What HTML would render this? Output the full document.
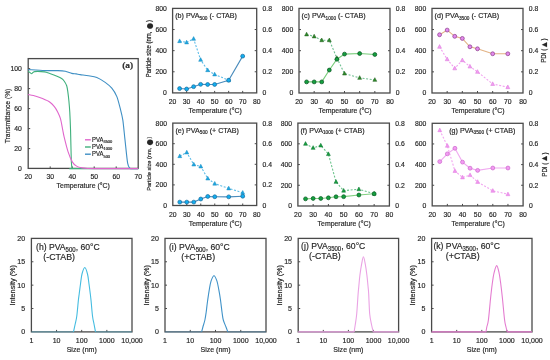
<!DOCTYPE html>
<html><head><meta charset="utf-8"><style>
html,body{margin:0;padding:0;background:#fff;}
svg{display:block;font-family:"Liberation Sans", sans-serif;filter:blur(0.2px);}
svg text{stroke:#262626;stroke-width:0.18px;}
</style></head><body>
<svg width="550" height="360" viewBox="0 0 550 360">
<rect width="550" height="360" fill="#fff"/>
<rect x="28.2" y="58.6" width="110" height="109.8" fill="none" stroke="#4a4a4a" stroke-width="1.3"/>
<path d="M50.2,168.4 v-2.0 M72.2,168.4 v-2.0 M94.2,168.4 v-2.0 M116.2,168.4 v-2.0 M28.2,148.6 h2.0 M28.2,128.6 h2.0 M28.2,108.6 h2.0 M28.2,88.6 h2.0 M28.2,68.6 h2.0" stroke="#4a4a4a" stroke-width="1" fill="none"/>
<text transform="translate(21.8,171) scale(0.93,1)" font-size="7.34" text-anchor="end" fill="#262626" >0</text>
<text transform="translate(21.8,151) scale(0.93,1)" font-size="7.34" text-anchor="end" fill="#262626" >20</text>
<text transform="translate(21.8,131) scale(0.93,1)" font-size="7.34" text-anchor="end" fill="#262626" >40</text>
<text transform="translate(21.8,111) scale(0.93,1)" font-size="7.34" text-anchor="end" fill="#262626" >60</text>
<text transform="translate(21.8,91) scale(0.93,1)" font-size="7.34" text-anchor="end" fill="#262626" >80</text>
<text transform="translate(21.8,71) scale(0.93,1)" font-size="7.34" text-anchor="end" fill="#262626" >100</text>
<text transform="translate(28.2,179.2) scale(0.93,1)" font-size="7.34" text-anchor="middle" fill="#262626" >20</text>
<text transform="translate(50.2,179.2) scale(0.93,1)" font-size="7.34" text-anchor="middle" fill="#262626" >30</text>
<text transform="translate(72.2,179.2) scale(0.93,1)" font-size="7.34" text-anchor="middle" fill="#262626" >40</text>
<text transform="translate(94.2,179.2) scale(0.93,1)" font-size="7.34" text-anchor="middle" fill="#262626" >50</text>
<text transform="translate(116.2,179.2) scale(0.93,1)" font-size="7.34" text-anchor="middle" fill="#262626" >60</text>
<text transform="translate(138.2,179.2) scale(0.93,1)" font-size="7.34" text-anchor="middle" fill="#262626" >70</text>
<text transform="translate(83.2,188) scale(0.93,1)" font-size="7.45" text-anchor="middle" fill="#262626" >Temperature (°C)</text>
<text transform="translate(10.4,116) rotate(-90) scale(0.93,1)" font-size="7.24" text-anchor="middle" fill="#262626">Transmittance (%)</text>
<text transform="translate(127.7,68) scale(1.15,1)" font-size="8.2" text-anchor="middle" fill="#333" font-family="Liberation Serif" font-weight="bold">(a)</text>
<path d="M28.2,69.6 C30.37,69.73 40.52,70.47 44.48,70.6 C48.44,70.73 55.11,70.51 57.9,70.6 C60.69,70.69 63.53,70.93 65.38,71.3 C67.23,71.67 70.32,73.05 71.76,73.4 C73.2,73.75 75.05,73.74 76.16,73.9 C77.27,74.06 78.48,74.36 80.12,74.6 C81.76,74.84 86.25,75.33 88.48,75.7 C90.71,76.07 94.61,76.51 96.84,77.4 C99.07,78.29 103.21,80.96 105.2,82.4 C107.19,83.84 110.25,86.31 111.8,88.2 C113.35,90.09 115.75,93.93 116.86,96.6 C117.97,99.27 119.37,105.09 120.16,108.2 C120.95,111.31 122.15,115.67 122.8,119.9 C123.45,124.13 124.35,134.13 125,139.9 C125.65,145.67 126.99,159.43 127.64,163.2 C128.29,166.97 129.31,167.48 129.84,168.2 C130.37,168.92 130.49,168.55 131.6,168.6 C132.71,168.65 137.32,168.6 138.2,168.6" stroke="#3f8fc4" stroke-width="1.1" fill="none" stroke-linejoin="round"/>
<path d="M28.2,71.2 C28.64,71.53 30.65,73.65 31.5,73.7 C32.35,73.75 32.85,71.84 34.58,71.6 C36.31,71.36 42.46,71.65 44.48,71.9 C46.5,72.15 48.09,72.93 49.76,73.5 C51.43,74.07 55.44,75.53 57.02,76.2 C58.6,76.87 60.67,77.83 61.64,78.5 C62.61,79.17 63.61,80.24 64.28,81.2 C64.95,82.16 66.23,84.31 66.7,85.7 C67.17,87.09 67.51,89.56 67.8,91.6 C68.09,93.64 68.64,98.27 68.9,101 C69.16,103.73 69.56,108.25 69.78,112.1 C70,115.95 70.34,123.3 70.55,129.9 C70.76,136.5 71.1,156.51 71.32,161.6 C71.54,166.69 71.85,167.17 72.2,168.1 C72.55,169.03 65.16,168.53 73.96,168.6 C82.76,168.67 129.63,168.6 138.2,168.6" stroke="#3fb07c" stroke-width="1.1" fill="none" stroke-linejoin="round"/>
<path d="M28.2,94.6 C29.23,94.81 33.99,95.67 35.9,96.2 C37.81,96.73 40.62,97.8 42.5,98.6 C44.38,99.4 48.4,101.12 49.98,102.2 C51.56,103.28 53.34,105.37 54.38,106.7 C55.42,108.03 56.97,110.57 57.79,112.2 C58.61,113.83 59.88,116.53 60.54,118.9 C61.2,121.27 62.27,127.64 62.74,130 C63.21,132.36 63.36,133.72 64.06,136.6 C64.76,139.48 66.91,148.2 68.02,151.6 C69.13,155 71.28,160.17 72.42,162.1 C73.56,164.03 75.31,165.33 76.6,166.1 C77.89,166.87 80.63,167.58 82.1,167.9 C83.57,168.22 85.99,168.41 87.6,168.5 C89.21,168.59 87.45,168.59 94.2,168.6 C100.95,168.61 132.33,168.6 138.2,168.6" stroke="#e066cc" stroke-width="1.1" fill="none" stroke-linejoin="round"/>
<path d="M85,139.8 h5.8" stroke="#e066cc" stroke-width="1.4"/>
<text transform="translate(92,141.9) scale(0.93,1)" font-size="6.37" text-anchor="start" fill="#262626" >PVA<tspan font-size="4.32" dy="1.3">3500</tspan></text>
<path d="M85,147 h5.8" stroke="#3fb07c" stroke-width="1.4"/>
<text transform="translate(92,149.1) scale(0.93,1)" font-size="6.37" text-anchor="start" fill="#262626" >PVA<tspan font-size="4.32" dy="1.3">1000</tspan></text>
<path d="M85,154.2 h5.8" stroke="#3f8fc4" stroke-width="1.4"/>
<text transform="translate(92,156.3) scale(0.93,1)" font-size="6.37" text-anchor="start" fill="#262626" >PVA<tspan font-size="4.32" dy="1.3">500</tspan></text>
<rect x="172.6" y="8.4" width="84.1" height="84.5" fill="none" stroke="#4a4a4a" stroke-width="1.3"/>
<path d="M186.62,92.9 v-2.0 M200.63,92.9 v-2.0 M214.65,92.9 v-2.0 M228.67,92.9 v-2.0 M242.68,92.9 v-2.0 M172.6,71.78 h2.0 M172.6,50.65 h2.0 M172.6,29.53 h2.0 M256.7,71.78 h-2.0 M256.7,50.65 h-2.0 M256.7,29.53 h-2.0" stroke="#4a4a4a" stroke-width="1" fill="none"/>
<text transform="translate(166.8,95.3) scale(0.93,1)" font-size="7.34" text-anchor="end" fill="#262626" >0</text>
<text transform="translate(262.5,95.3) scale(0.93,1)" font-size="7.34" text-anchor="start" fill="#262626" >0</text>
<text transform="translate(166.8,74.18) scale(0.93,1)" font-size="7.34" text-anchor="end" fill="#262626" >200</text>
<text transform="translate(262.5,74.18) scale(0.93,1)" font-size="7.34" text-anchor="start" fill="#262626" >0.2</text>
<text transform="translate(166.8,53.05) scale(0.93,1)" font-size="7.34" text-anchor="end" fill="#262626" >400</text>
<text transform="translate(262.5,53.05) scale(0.93,1)" font-size="7.34" text-anchor="start" fill="#262626" >0.4</text>
<text transform="translate(166.8,31.93) scale(0.93,1)" font-size="7.34" text-anchor="end" fill="#262626" >600</text>
<text transform="translate(262.5,31.93) scale(0.93,1)" font-size="7.34" text-anchor="start" fill="#262626" >0.6</text>
<text transform="translate(166.8,10.8) scale(0.93,1)" font-size="7.34" text-anchor="end" fill="#262626" >800</text>
<text transform="translate(262.5,10.8) scale(0.93,1)" font-size="7.34" text-anchor="start" fill="#262626" >0.8</text>
<text transform="translate(172.6,104.1) scale(0.93,1)" font-size="7.34" text-anchor="middle" fill="#262626" >20</text>
<text transform="translate(186.62,104.1) scale(0.93,1)" font-size="7.34" text-anchor="middle" fill="#262626" >30</text>
<text transform="translate(200.63,104.1) scale(0.93,1)" font-size="7.34" text-anchor="middle" fill="#262626" >40</text>
<text transform="translate(214.65,104.1) scale(0.93,1)" font-size="7.34" text-anchor="middle" fill="#262626" >50</text>
<text transform="translate(228.67,104.1) scale(0.93,1)" font-size="7.34" text-anchor="middle" fill="#262626" >60</text>
<text transform="translate(242.68,104.1) scale(0.93,1)" font-size="7.34" text-anchor="middle" fill="#262626" >70</text>
<text transform="translate(256.7,104.1) scale(0.93,1)" font-size="7.34" text-anchor="middle" fill="#262626" >80</text>
<text transform="translate(151.1,48.65) rotate(-90) scale(0.93,1)" font-size="6.43" text-anchor="middle" fill="#262626">Particle size (nm, <tspan font-size="14" dy="2.4">●</tspan><tspan dy="-2.4">)</tspan></text>
<text transform="translate(175.2,18) scale(0.93,1)" font-size="7.67" text-anchor="start" fill="#262626" >(b) PVA<tspan font-size="5.08" dy="1.5">500</tspan><tspan dy="-1.5"> (- CTAB)</tspan></text>
<path d="M179.61,41.14 L186.62,42.41 L193.62,38.82 L200.63,59.84 L207.64,70.19 L214.65,74.42 L228.67,80.23" stroke="#5cbce8" stroke-width="1.1" stroke-dasharray="2,1.6" fill="none"/>
<path d="M179.61,38.92 L177.66,42.63 L181.56,42.63 Z" fill="#1ea6e0" stroke="#1a8cc0" stroke-width="0.5"/>
<path d="M186.62,40.19 L184.67,43.89 L188.57,43.89 Z" fill="#1ea6e0" stroke="#1a8cc0" stroke-width="0.5"/>
<path d="M193.62,36.6 L191.68,40.3 L195.57,40.3 Z" fill="#1ea6e0" stroke="#1a8cc0" stroke-width="0.5"/>
<path d="M200.63,57.62 L198.68,61.32 L202.58,61.32 Z" fill="#1ea6e0" stroke="#1a8cc0" stroke-width="0.5"/>
<path d="M207.64,67.97 L205.69,71.67 L209.59,71.67 Z" fill="#1ea6e0" stroke="#1a8cc0" stroke-width="0.5"/>
<path d="M214.65,72.19 L212.7,75.9 L216.6,75.9 Z" fill="#1ea6e0" stroke="#1a8cc0" stroke-width="0.5"/>
<path d="M228.67,78 L226.72,81.71 L230.62,81.71 Z" fill="#1ea6e0" stroke="#1a8cc0" stroke-width="0.5"/>
<path d="M179.61,88.57 L186.62,88.99 L193.62,86.67 L200.63,84.34 L207.64,84.45 L214.65,84.45 L228.67,80.23 L242.68,56.14" stroke="#4a8cbc" stroke-width="1.1" fill="none"/>
<circle cx="179.61" cy="88.57" r="1.95" fill="#12aef0" stroke="#1a6a9a" stroke-width="0.7"/>
<circle cx="186.62" cy="88.99" r="1.95" fill="#12aef0" stroke="#1a6a9a" stroke-width="0.7"/>
<circle cx="193.62" cy="86.67" r="1.95" fill="#12aef0" stroke="#1a6a9a" stroke-width="0.7"/>
<circle cx="200.63" cy="84.34" r="1.95" fill="#12aef0" stroke="#1a6a9a" stroke-width="0.7"/>
<circle cx="207.64" cy="84.45" r="1.95" fill="#12aef0" stroke="#1a6a9a" stroke-width="0.7"/>
<circle cx="214.65" cy="84.45" r="1.95" fill="#12aef0" stroke="#1a6a9a" stroke-width="0.7"/>
<circle cx="228.67" cy="80.23" r="1.95" fill="#12aef0" stroke="#1a6a9a" stroke-width="0.7"/>
<circle cx="242.68" cy="56.14" r="1.95" fill="#12aef0" stroke="#1a6a9a" stroke-width="0.7"/>
<rect x="299" y="8.4" width="91" height="84.6" fill="none" stroke="#4a4a4a" stroke-width="1.3"/>
<path d="M314.17,93 v-2.0 M329.33,93 v-2.0 M344.5,93 v-2.0 M359.67,93 v-2.0 M374.83,93 v-2.0 M299,71.85 h2.0 M299,50.7 h2.0 M299,29.55 h2.0 M390,71.85 h-2.0 M390,50.7 h-2.0 M390,29.55 h-2.0" stroke="#4a4a4a" stroke-width="1" fill="none"/>
<text transform="translate(293.2,95.4) scale(0.93,1)" font-size="7.34" text-anchor="end" fill="#262626" >0</text>
<text transform="translate(395.8,95.4) scale(0.93,1)" font-size="7.34" text-anchor="start" fill="#262626" >0</text>
<text transform="translate(293.2,74.25) scale(0.93,1)" font-size="7.34" text-anchor="end" fill="#262626" >200</text>
<text transform="translate(395.8,74.25) scale(0.93,1)" font-size="7.34" text-anchor="start" fill="#262626" >0.2</text>
<text transform="translate(293.2,53.1) scale(0.93,1)" font-size="7.34" text-anchor="end" fill="#262626" >400</text>
<text transform="translate(395.8,53.1) scale(0.93,1)" font-size="7.34" text-anchor="start" fill="#262626" >0.4</text>
<text transform="translate(293.2,31.95) scale(0.93,1)" font-size="7.34" text-anchor="end" fill="#262626" >600</text>
<text transform="translate(395.8,31.95) scale(0.93,1)" font-size="7.34" text-anchor="start" fill="#262626" >0.6</text>
<text transform="translate(293.2,10.8) scale(0.93,1)" font-size="7.34" text-anchor="end" fill="#262626" >800</text>
<text transform="translate(395.8,10.8) scale(0.93,1)" font-size="7.34" text-anchor="start" fill="#262626" >0.8</text>
<text transform="translate(299,104.2) scale(0.93,1)" font-size="7.34" text-anchor="middle" fill="#262626" >20</text>
<text transform="translate(314.17,104.2) scale(0.93,1)" font-size="7.34" text-anchor="middle" fill="#262626" >30</text>
<text transform="translate(329.33,104.2) scale(0.93,1)" font-size="7.34" text-anchor="middle" fill="#262626" >40</text>
<text transform="translate(344.5,104.2) scale(0.93,1)" font-size="7.34" text-anchor="middle" fill="#262626" >50</text>
<text transform="translate(359.67,104.2) scale(0.93,1)" font-size="7.34" text-anchor="middle" fill="#262626" >60</text>
<text transform="translate(374.83,104.2) scale(0.93,1)" font-size="7.34" text-anchor="middle" fill="#262626" >70</text>
<text transform="translate(390,104.2) scale(0.93,1)" font-size="7.34" text-anchor="middle" fill="#262626" >80</text>
<text transform="translate(301.6,18) scale(0.93,1)" font-size="7.67" text-anchor="start" fill="#262626" >(c) PVA<tspan font-size="5.08" dy="1.5">1000</tspan><tspan dy="-1.5"> (- CTAB)</tspan></text>
<path d="M306.58,34.41 L314.17,36.42 L321.75,40.23 L329.33,40.23 L336.92,58.1 L344.5,73.54 L359.67,77.88 L374.83,79.89" stroke="#6fbf90" stroke-width="1.1" stroke-dasharray="2,1.6" fill="none"/>
<path d="M306.58,32.19 L304.63,35.9 L308.53,35.9 Z" fill="#2f8a2a" stroke="#1f5a1a" stroke-width="0.5"/>
<path d="M314.17,34.2 L312.22,37.91 L316.12,37.91 Z" fill="#2f8a2a" stroke="#1f5a1a" stroke-width="0.5"/>
<path d="M321.75,38.01 L319.8,41.71 L323.7,41.71 Z" fill="#2f8a2a" stroke="#1f5a1a" stroke-width="0.5"/>
<path d="M329.33,38.01 L327.38,41.71 L331.28,41.71 Z" fill="#2f8a2a" stroke="#1f5a1a" stroke-width="0.5"/>
<path d="M336.92,55.88 L334.97,59.58 L338.87,59.58 Z" fill="#2f8a2a" stroke="#1f5a1a" stroke-width="0.5"/>
<path d="M344.5,71.32 L342.55,75.02 L346.45,75.02 Z" fill="#2f8a2a" stroke="#1f5a1a" stroke-width="0.5"/>
<path d="M359.67,75.65 L357.72,79.36 L361.62,79.36 Z" fill="#2f8a2a" stroke="#1f5a1a" stroke-width="0.5"/>
<path d="M374.83,77.66 L372.88,81.37 L376.78,81.37 Z" fill="#2f8a2a" stroke="#1f5a1a" stroke-width="0.5"/>
<path d="M306.58,81.9 L314.17,81.9 L321.75,81.9 L329.33,70.05 L336.92,59.27 L344.5,54.08 L359.67,53.56 L374.83,54.51" stroke="#78cc7a" stroke-width="1.1" fill="none"/>
<circle cx="306.58" cy="81.9" r="1.95" fill="#14a040" stroke="#0a5020" stroke-width="0.7"/>
<circle cx="314.17" cy="81.9" r="1.95" fill="#14a040" stroke="#0a5020" stroke-width="0.7"/>
<circle cx="321.75" cy="81.9" r="1.95" fill="#14a040" stroke="#0a5020" stroke-width="0.7"/>
<circle cx="329.33" cy="70.05" r="1.95" fill="#14a040" stroke="#0a5020" stroke-width="0.7"/>
<circle cx="336.92" cy="59.27" r="1.95" fill="#14a040" stroke="#0a5020" stroke-width="0.7"/>
<circle cx="344.5" cy="54.08" r="1.95" fill="#14a040" stroke="#0a5020" stroke-width="0.7"/>
<circle cx="359.67" cy="53.56" r="1.95" fill="#14a040" stroke="#0a5020" stroke-width="0.7"/>
<circle cx="374.83" cy="54.51" r="1.95" fill="#14a040" stroke="#0a5020" stroke-width="0.7"/>
<rect x="432" y="8.4" width="91" height="84.6" fill="none" stroke="#4a4a4a" stroke-width="1.3"/>
<path d="M447.17,93 v-2.0 M462.33,93 v-2.0 M477.5,93 v-2.0 M492.67,93 v-2.0 M507.83,93 v-2.0 M432,71.85 h2.0 M432,50.7 h2.0 M432,29.55 h2.0 M523,71.85 h-2.0 M523,50.7 h-2.0 M523,29.55 h-2.0" stroke="#4a4a4a" stroke-width="1" fill="none"/>
<text transform="translate(426.2,95.4) scale(0.93,1)" font-size="7.34" text-anchor="end" fill="#262626" >0</text>
<text transform="translate(528.8,95.4) scale(0.93,1)" font-size="7.34" text-anchor="start" fill="#262626" >0</text>
<text transform="translate(426.2,74.25) scale(0.93,1)" font-size="7.34" text-anchor="end" fill="#262626" >200</text>
<text transform="translate(528.8,74.25) scale(0.93,1)" font-size="7.34" text-anchor="start" fill="#262626" >0.2</text>
<text transform="translate(426.2,53.1) scale(0.93,1)" font-size="7.34" text-anchor="end" fill="#262626" >400</text>
<text transform="translate(528.8,53.1) scale(0.93,1)" font-size="7.34" text-anchor="start" fill="#262626" >0.4</text>
<text transform="translate(426.2,31.95) scale(0.93,1)" font-size="7.34" text-anchor="end" fill="#262626" >600</text>
<text transform="translate(528.8,31.95) scale(0.93,1)" font-size="7.34" text-anchor="start" fill="#262626" >0.6</text>
<text transform="translate(426.2,10.8) scale(0.93,1)" font-size="7.34" text-anchor="end" fill="#262626" >800</text>
<text transform="translate(528.8,10.8) scale(0.93,1)" font-size="7.34" text-anchor="start" fill="#262626" >0.8</text>
<text transform="translate(432,104.2) scale(0.93,1)" font-size="7.34" text-anchor="middle" fill="#262626" >20</text>
<text transform="translate(447.17,104.2) scale(0.93,1)" font-size="7.34" text-anchor="middle" fill="#262626" >30</text>
<text transform="translate(462.33,104.2) scale(0.93,1)" font-size="7.34" text-anchor="middle" fill="#262626" >40</text>
<text transform="translate(477.5,104.2) scale(0.93,1)" font-size="7.34" text-anchor="middle" fill="#262626" >50</text>
<text transform="translate(492.67,104.2) scale(0.93,1)" font-size="7.34" text-anchor="middle" fill="#262626" >60</text>
<text transform="translate(507.83,104.2) scale(0.93,1)" font-size="7.34" text-anchor="middle" fill="#262626" >70</text>
<text transform="translate(523,104.2) scale(0.93,1)" font-size="7.34" text-anchor="middle" fill="#262626" >80</text>
<text transform="translate(546.4,50.7) rotate(-90) scale(0.93,1)" font-size="6.7" text-anchor="middle" fill="#262626">PDI (<tspan font-size="8.8" dy="0.6">▲</tspan><tspan dy="-0.6">)</tspan></text>
<text transform="translate(434.6,18) scale(0.93,1)" font-size="7.67" text-anchor="start" fill="#262626" >(d) PVA<tspan font-size="5.08" dy="1.5">3500</tspan><tspan dy="-1.5"> (- CTAB)</tspan></text>
<path d="M439.58,46.79 L447.17,59.27 L454.75,68.36 L462.33,60.22 L469.92,66.56 L477.5,71.85 L492.67,84.01 L507.83,87.18" stroke="#f2a0f0" stroke-width="1.1" stroke-dasharray="2,1.6" fill="none"/>
<path d="M439.58,44.56 L437.63,48.27 L441.53,48.27 Z" fill="#f29cf2" stroke="#d878d8" stroke-width="0.5"/>
<path d="M447.17,57.04 L445.22,60.75 L449.12,60.75 Z" fill="#f29cf2" stroke="#d878d8" stroke-width="0.5"/>
<path d="M454.75,66.14 L452.8,69.84 L456.7,69.84 Z" fill="#f29cf2" stroke="#d878d8" stroke-width="0.5"/>
<path d="M462.33,57.99 L460.38,61.7 L464.28,61.7 Z" fill="#f29cf2" stroke="#d878d8" stroke-width="0.5"/>
<path d="M469.92,64.34 L467.97,68.04 L471.87,68.04 Z" fill="#f29cf2" stroke="#d878d8" stroke-width="0.5"/>
<path d="M477.5,69.63 L475.55,73.33 L479.45,73.33 Z" fill="#f29cf2" stroke="#d878d8" stroke-width="0.5"/>
<path d="M492.67,81.79 L490.72,85.49 L494.62,85.49 Z" fill="#f29cf2" stroke="#d878d8" stroke-width="0.5"/>
<path d="M507.83,84.96 L505.88,88.67 L509.78,88.67 Z" fill="#f29cf2" stroke="#d878d8" stroke-width="0.5"/>
<path d="M439.58,34.73 L447.17,30.08 L454.75,36.32 L462.33,38.43 L469.92,46.79 L477.5,48.8 L492.67,53.77 L507.83,53.77" stroke="#e2b284" stroke-width="1.1" fill="none"/>
<circle cx="439.58" cy="34.73" r="1.95" fill="#e28aec" stroke="#8a3a8a" stroke-width="0.7"/>
<circle cx="447.17" cy="30.08" r="1.95" fill="#e28aec" stroke="#8a3a8a" stroke-width="0.7"/>
<circle cx="454.75" cy="36.32" r="1.95" fill="#e28aec" stroke="#8a3a8a" stroke-width="0.7"/>
<circle cx="462.33" cy="38.43" r="1.95" fill="#e28aec" stroke="#8a3a8a" stroke-width="0.7"/>
<circle cx="469.92" cy="46.79" r="1.95" fill="#e28aec" stroke="#8a3a8a" stroke-width="0.7"/>
<circle cx="477.5" cy="48.8" r="1.95" fill="#e28aec" stroke="#8a3a8a" stroke-width="0.7"/>
<circle cx="492.67" cy="53.77" r="1.95" fill="#e28aec" stroke="#8a3a8a" stroke-width="0.7"/>
<circle cx="507.83" cy="53.77" r="1.95" fill="#e28aec" stroke="#8a3a8a" stroke-width="0.7"/>
<rect x="172.8" y="123.1" width="83.9" height="82.4" fill="none" stroke="#4a4a4a" stroke-width="1.3"/>
<path d="M186.78,205.5 v-2.0 M200.77,205.5 v-2.0 M214.75,205.5 v-2.0 M228.73,205.5 v-2.0 M242.72,205.5 v-2.0 M172.8,184.9 h2.0 M172.8,164.3 h2.0 M172.8,143.7 h2.0 M256.7,184.9 h-2.0 M256.7,164.3 h-2.0 M256.7,143.7 h-2.0" stroke="#4a4a4a" stroke-width="1" fill="none"/>
<text transform="translate(167,207.9) scale(0.93,1)" font-size="7.34" text-anchor="end" fill="#262626" >0</text>
<text transform="translate(262.5,207.9) scale(0.93,1)" font-size="7.34" text-anchor="start" fill="#262626" >0</text>
<text transform="translate(167,187.3) scale(0.93,1)" font-size="7.34" text-anchor="end" fill="#262626" >200</text>
<text transform="translate(262.5,187.3) scale(0.93,1)" font-size="7.34" text-anchor="start" fill="#262626" >0.2</text>
<text transform="translate(167,166.7) scale(0.93,1)" font-size="7.34" text-anchor="end" fill="#262626" >400</text>
<text transform="translate(262.5,166.7) scale(0.93,1)" font-size="7.34" text-anchor="start" fill="#262626" >0.4</text>
<text transform="translate(167,146.1) scale(0.93,1)" font-size="7.34" text-anchor="end" fill="#262626" >600</text>
<text transform="translate(262.5,146.1) scale(0.93,1)" font-size="7.34" text-anchor="start" fill="#262626" >0.6</text>
<text transform="translate(167,125.5) scale(0.93,1)" font-size="7.34" text-anchor="end" fill="#262626" >800</text>
<text transform="translate(262.5,125.5) scale(0.93,1)" font-size="7.34" text-anchor="start" fill="#262626" >0.8</text>
<text transform="translate(172.8,216.7) scale(0.93,1)" font-size="7.34" text-anchor="middle" fill="#262626" >20</text>
<text transform="translate(186.78,216.7) scale(0.93,1)" font-size="7.34" text-anchor="middle" fill="#262626" >30</text>
<text transform="translate(200.77,216.7) scale(0.93,1)" font-size="7.34" text-anchor="middle" fill="#262626" >40</text>
<text transform="translate(214.75,216.7) scale(0.93,1)" font-size="7.34" text-anchor="middle" fill="#262626" >50</text>
<text transform="translate(228.73,216.7) scale(0.93,1)" font-size="7.34" text-anchor="middle" fill="#262626" >60</text>
<text transform="translate(242.72,216.7) scale(0.93,1)" font-size="7.34" text-anchor="middle" fill="#262626" >70</text>
<text transform="translate(256.7,216.7) scale(0.93,1)" font-size="7.34" text-anchor="middle" fill="#262626" >80</text>
<text transform="translate(151.3,163.7) rotate(-90) scale(0.93,1)" font-size="6.05" text-anchor="middle" fill="#262626">Particle size (nm, <tspan font-size="14" dy="2.4">●</tspan><tspan dy="-2.4">)</tspan></text>
<text transform="translate(175.4,132.7) scale(0.93,1)" font-size="7.67" text-anchor="start" fill="#262626" >(e) PVA<tspan font-size="5.08" dy="1.5">500</tspan><tspan dy="-1.5"> (+ CTAB)</tspan></text>
<path d="M179.79,156.16 L186.78,152.45 L193.78,164.51 L200.77,166.46 L207.76,178.51 L214.75,183.66 L228.73,188.4 L242.72,192.73" stroke="#5cbce8" stroke-width="1.1" stroke-dasharray="2,1.6" fill="none"/>
<path d="M179.79,153.94 L177.84,157.64 L181.74,157.64 Z" fill="#1ea6e0" stroke="#1a8cc0" stroke-width="0.5"/>
<path d="M186.78,150.23 L184.83,153.94 L188.73,153.94 Z" fill="#1ea6e0" stroke="#1a8cc0" stroke-width="0.5"/>
<path d="M193.78,162.28 L191.83,165.99 L195.72,165.99 Z" fill="#1ea6e0" stroke="#1a8cc0" stroke-width="0.5"/>
<path d="M200.77,164.24 L198.82,167.94 L202.72,167.94 Z" fill="#1ea6e0" stroke="#1a8cc0" stroke-width="0.5"/>
<path d="M207.76,176.29 L205.81,180 L209.71,180 Z" fill="#1ea6e0" stroke="#1a8cc0" stroke-width="0.5"/>
<path d="M214.75,181.44 L212.8,185.15 L216.7,185.15 Z" fill="#1ea6e0" stroke="#1a8cc0" stroke-width="0.5"/>
<path d="M228.73,186.18 L226.78,189.88 L230.68,189.88 Z" fill="#1ea6e0" stroke="#1a8cc0" stroke-width="0.5"/>
<path d="M242.72,190.5 L240.77,194.21 L244.67,194.21 Z" fill="#1ea6e0" stroke="#1a8cc0" stroke-width="0.5"/>
<path d="M179.79,202.1 L186.78,202.1 L193.78,202.1 L200.77,199.01 L207.76,196.44 L214.75,196.75 L228.73,196.85 L242.72,196.23" stroke="#4a8cbc" stroke-width="1.1" fill="none"/>
<circle cx="179.79" cy="202.1" r="1.95" fill="#12aef0" stroke="#1a6a9a" stroke-width="0.7"/>
<circle cx="186.78" cy="202.1" r="1.95" fill="#12aef0" stroke="#1a6a9a" stroke-width="0.7"/>
<circle cx="193.78" cy="202.1" r="1.95" fill="#12aef0" stroke="#1a6a9a" stroke-width="0.7"/>
<circle cx="200.77" cy="199.01" r="1.95" fill="#12aef0" stroke="#1a6a9a" stroke-width="0.7"/>
<circle cx="207.76" cy="196.44" r="1.95" fill="#12aef0" stroke="#1a6a9a" stroke-width="0.7"/>
<circle cx="214.75" cy="196.75" r="1.95" fill="#12aef0" stroke="#1a6a9a" stroke-width="0.7"/>
<circle cx="228.73" cy="196.85" r="1.95" fill="#12aef0" stroke="#1a6a9a" stroke-width="0.7"/>
<circle cx="242.72" cy="196.23" r="1.95" fill="#12aef0" stroke="#1a6a9a" stroke-width="0.7"/>
<rect x="297.9" y="123.1" width="91.5" height="82.9" fill="none" stroke="#4a4a4a" stroke-width="1.3"/>
<path d="M313.15,206 v-2.0 M328.4,206 v-2.0 M343.65,206 v-2.0 M358.9,206 v-2.0 M374.15,206 v-2.0 M297.9,185.28 h2.0 M297.9,164.55 h2.0 M297.9,143.82 h2.0 M389.4,185.28 h-2.0 M389.4,164.55 h-2.0 M389.4,143.82 h-2.0" stroke="#4a4a4a" stroke-width="1" fill="none"/>
<text transform="translate(292.1,208.4) scale(0.93,1)" font-size="7.34" text-anchor="end" fill="#262626" >0</text>
<text transform="translate(395.2,208.4) scale(0.93,1)" font-size="7.34" text-anchor="start" fill="#262626" >0</text>
<text transform="translate(292.1,187.68) scale(0.93,1)" font-size="7.34" text-anchor="end" fill="#262626" >200</text>
<text transform="translate(395.2,187.68) scale(0.93,1)" font-size="7.34" text-anchor="start" fill="#262626" >0.2</text>
<text transform="translate(292.1,166.95) scale(0.93,1)" font-size="7.34" text-anchor="end" fill="#262626" >400</text>
<text transform="translate(395.2,166.95) scale(0.93,1)" font-size="7.34" text-anchor="start" fill="#262626" >0.4</text>
<text transform="translate(292.1,146.22) scale(0.93,1)" font-size="7.34" text-anchor="end" fill="#262626" >600</text>
<text transform="translate(395.2,146.22) scale(0.93,1)" font-size="7.34" text-anchor="start" fill="#262626" >0.6</text>
<text transform="translate(292.1,125.5) scale(0.93,1)" font-size="7.34" text-anchor="end" fill="#262626" >800</text>
<text transform="translate(395.2,125.5) scale(0.93,1)" font-size="7.34" text-anchor="start" fill="#262626" >0.8</text>
<text transform="translate(297.9,217.2) scale(0.93,1)" font-size="7.34" text-anchor="middle" fill="#262626" >20</text>
<text transform="translate(313.15,217.2) scale(0.93,1)" font-size="7.34" text-anchor="middle" fill="#262626" >30</text>
<text transform="translate(328.4,217.2) scale(0.93,1)" font-size="7.34" text-anchor="middle" fill="#262626" >40</text>
<text transform="translate(343.65,217.2) scale(0.93,1)" font-size="7.34" text-anchor="middle" fill="#262626" >50</text>
<text transform="translate(358.9,217.2) scale(0.93,1)" font-size="7.34" text-anchor="middle" fill="#262626" >60</text>
<text transform="translate(374.15,217.2) scale(0.93,1)" font-size="7.34" text-anchor="middle" fill="#262626" >70</text>
<text transform="translate(389.4,217.2) scale(0.93,1)" font-size="7.34" text-anchor="middle" fill="#262626" >80</text>
<text transform="translate(300.5,132.7) scale(0.93,1)" font-size="7.67" text-anchor="start" fill="#262626" >(f) PVA<tspan font-size="5.08" dy="1.5">1000</tspan><tspan dy="-1.5"> (+ CTAB)</tspan></text>
<path d="M305.52,143.82 L313.15,147.87 L320.77,145.48 L328.4,154.08 L336.02,181.86 L343.65,190.66 L358.9,189.21 L374.15,193.67" stroke="#6cc48c" stroke-width="1.1" stroke-dasharray="2,1.6" fill="none"/>
<path d="M305.52,141.6 L303.57,145.31 L307.47,145.31 Z" fill="#18a040" stroke="#0d7030" stroke-width="0.5"/>
<path d="M313.15,145.64 L311.2,149.35 L315.1,149.35 Z" fill="#18a040" stroke="#0d7030" stroke-width="0.5"/>
<path d="M320.77,143.26 L318.82,146.97 L322.72,146.97 Z" fill="#18a040" stroke="#0d7030" stroke-width="0.5"/>
<path d="M328.4,151.86 L326.45,155.57 L330.35,155.57 Z" fill="#18a040" stroke="#0d7030" stroke-width="0.5"/>
<path d="M336.02,179.63 L334.07,183.34 L337.97,183.34 Z" fill="#18a040" stroke="#0d7030" stroke-width="0.5"/>
<path d="M343.65,188.44 L341.7,192.15 L345.6,192.15 Z" fill="#18a040" stroke="#0d7030" stroke-width="0.5"/>
<path d="M358.9,186.99 L356.95,190.69 L360.85,190.69 Z" fill="#18a040" stroke="#0d7030" stroke-width="0.5"/>
<path d="M374.15,191.45 L372.2,195.15 L376.1,195.15 Z" fill="#18a040" stroke="#0d7030" stroke-width="0.5"/>
<path d="M305.52,198.85 L313.15,198.44 L320.77,198.44 L328.4,197.81 L336.02,196.78 L343.65,196.67 L358.9,195.02 L374.15,193.77" stroke="#80d080" stroke-width="1.1" fill="none"/>
<circle cx="305.52" cy="198.85" r="1.95" fill="#14a040" stroke="#0a5a22" stroke-width="0.7"/>
<circle cx="313.15" cy="198.44" r="1.95" fill="#14a040" stroke="#0a5a22" stroke-width="0.7"/>
<circle cx="320.77" cy="198.44" r="1.95" fill="#14a040" stroke="#0a5a22" stroke-width="0.7"/>
<circle cx="328.4" cy="197.81" r="1.95" fill="#14a040" stroke="#0a5a22" stroke-width="0.7"/>
<circle cx="336.02" cy="196.78" r="1.95" fill="#14a040" stroke="#0a5a22" stroke-width="0.7"/>
<circle cx="343.65" cy="196.67" r="1.95" fill="#14a040" stroke="#0a5a22" stroke-width="0.7"/>
<circle cx="358.9" cy="195.02" r="1.95" fill="#14a040" stroke="#0a5a22" stroke-width="0.7"/>
<circle cx="374.15" cy="193.77" r="1.95" fill="#14a040" stroke="#0a5a22" stroke-width="0.7"/>
<rect x="432.2" y="123.3" width="90.9" height="82.6" fill="none" stroke="#4a4a4a" stroke-width="1.3"/>
<path d="M447.35,205.9 v-2.0 M462.5,205.9 v-2.0 M477.65,205.9 v-2.0 M492.8,205.9 v-2.0 M507.95,205.9 v-2.0 M432.2,185.25 h2.0 M432.2,164.6 h2.0 M432.2,143.95 h2.0 M523.1,185.25 h-2.0 M523.1,164.6 h-2.0 M523.1,143.95 h-2.0" stroke="#4a4a4a" stroke-width="1" fill="none"/>
<text transform="translate(426.4,208.3) scale(0.93,1)" font-size="7.34" text-anchor="end" fill="#262626" >0</text>
<text transform="translate(528.9,208.3) scale(0.93,1)" font-size="7.34" text-anchor="start" fill="#262626" >0</text>
<text transform="translate(426.4,187.65) scale(0.93,1)" font-size="7.34" text-anchor="end" fill="#262626" >200</text>
<text transform="translate(528.9,187.65) scale(0.93,1)" font-size="7.34" text-anchor="start" fill="#262626" >0.2</text>
<text transform="translate(426.4,167) scale(0.93,1)" font-size="7.34" text-anchor="end" fill="#262626" >400</text>
<text transform="translate(528.9,167) scale(0.93,1)" font-size="7.34" text-anchor="start" fill="#262626" >0.4</text>
<text transform="translate(426.4,146.35) scale(0.93,1)" font-size="7.34" text-anchor="end" fill="#262626" >600</text>
<text transform="translate(528.9,146.35) scale(0.93,1)" font-size="7.34" text-anchor="start" fill="#262626" >0.6</text>
<text transform="translate(426.4,125.7) scale(0.93,1)" font-size="7.34" text-anchor="end" fill="#262626" >800</text>
<text transform="translate(528.9,125.7) scale(0.93,1)" font-size="7.34" text-anchor="start" fill="#262626" >0.8</text>
<text transform="translate(432.2,217.1) scale(0.93,1)" font-size="7.34" text-anchor="middle" fill="#262626" >20</text>
<text transform="translate(447.35,217.1) scale(0.93,1)" font-size="7.34" text-anchor="middle" fill="#262626" >30</text>
<text transform="translate(462.5,217.1) scale(0.93,1)" font-size="7.34" text-anchor="middle" fill="#262626" >40</text>
<text transform="translate(477.65,217.1) scale(0.93,1)" font-size="7.34" text-anchor="middle" fill="#262626" >50</text>
<text transform="translate(492.8,217.1) scale(0.93,1)" font-size="7.34" text-anchor="middle" fill="#262626" >60</text>
<text transform="translate(507.95,217.1) scale(0.93,1)" font-size="7.34" text-anchor="middle" fill="#262626" >70</text>
<text transform="translate(523.1,217.1) scale(0.93,1)" font-size="7.34" text-anchor="middle" fill="#262626" >80</text>
<text transform="translate(546.5,164.6) rotate(-90) scale(0.93,1)" font-size="6.7" text-anchor="middle" fill="#262626">PDI (<tspan font-size="8.8" dy="0.6">▲</tspan><tspan dy="-0.6">)</tspan></text>
<text transform="translate(449.2,132.9) scale(0.93,1)" font-size="7.67" text-anchor="start" fill="#262626" >(g) PVA<tspan font-size="5.08" dy="1.5">3500</tspan><tspan dy="-1.5"> (+ CTAB)</tspan></text>
<path d="M439.77,130.22 L447.35,145.81 L454.93,171 L462.5,177.4 L470.07,175.13 L477.65,181.95 L492.8,190.83 L507.95,194.23" stroke="#f2a6f0" stroke-width="1.1" stroke-dasharray="2,1.6" fill="none"/>
<path d="M439.77,127.99 L437.82,131.7 L441.72,131.7 Z" fill="#f096ee" stroke="#e07ce0" stroke-width="0.5"/>
<path d="M447.35,143.59 L445.4,147.29 L449.3,147.29 Z" fill="#f096ee" stroke="#e07ce0" stroke-width="0.5"/>
<path d="M454.93,168.78 L452.98,172.48 L456.88,172.48 Z" fill="#f096ee" stroke="#e07ce0" stroke-width="0.5"/>
<path d="M462.5,175.18 L460.55,178.88 L464.45,178.88 Z" fill="#f096ee" stroke="#e07ce0" stroke-width="0.5"/>
<path d="M470.07,172.91 L468.12,176.61 L472.02,176.61 Z" fill="#f096ee" stroke="#e07ce0" stroke-width="0.5"/>
<path d="M477.65,179.72 L475.7,183.43 L479.6,183.43 Z" fill="#f096ee" stroke="#e07ce0" stroke-width="0.5"/>
<path d="M492.8,188.6 L490.85,192.31 L494.75,192.31 Z" fill="#f096ee" stroke="#e07ce0" stroke-width="0.5"/>
<path d="M507.95,192.01 L506,195.71 L509.9,195.71 Z" fill="#f096ee" stroke="#e07ce0" stroke-width="0.5"/>
<path d="M439.77,161.61 L447.35,153.86 L454.93,148.29 L462.5,162.12 L470.07,168.21 L477.65,170.38 L492.8,168.01 L507.95,168.01" stroke="#f0aaf0" stroke-width="1.1" fill="none"/>
<circle cx="439.77" cy="161.61" r="1.95" fill="#f29cf2" stroke="#cc66cc" stroke-width="0.7"/>
<circle cx="447.35" cy="153.86" r="1.95" fill="#f29cf2" stroke="#cc66cc" stroke-width="0.7"/>
<circle cx="454.93" cy="148.29" r="1.95" fill="#f29cf2" stroke="#cc66cc" stroke-width="0.7"/>
<circle cx="462.5" cy="162.12" r="1.95" fill="#f29cf2" stroke="#cc66cc" stroke-width="0.7"/>
<circle cx="470.07" cy="168.21" r="1.95" fill="#f29cf2" stroke="#cc66cc" stroke-width="0.7"/>
<circle cx="477.65" cy="170.38" r="1.95" fill="#f29cf2" stroke="#cc66cc" stroke-width="0.7"/>
<circle cx="492.8" cy="168.01" r="1.95" fill="#f29cf2" stroke="#cc66cc" stroke-width="0.7"/>
<circle cx="507.95" cy="168.01" r="1.95" fill="#f29cf2" stroke="#cc66cc" stroke-width="0.7"/>
<text transform="translate(215.15,113.2) scale(0.93,1)" font-size="7.45" text-anchor="middle" fill="#262626" >Temperature (°C)</text>
<text transform="translate(345,113.3) scale(0.93,1)" font-size="7.45" text-anchor="middle" fill="#262626" >Temperature (°C)</text>
<text transform="translate(478,113.3) scale(0.93,1)" font-size="7.45" text-anchor="middle" fill="#262626" >Temperature (°C)</text>
<text transform="translate(215.25,225.8) scale(0.93,1)" font-size="7.45" text-anchor="middle" fill="#262626" >Temperature (°C)</text>
<text transform="translate(344.15,226.3) scale(0.93,1)" font-size="7.45" text-anchor="middle" fill="#262626" >Temperature (°C)</text>
<text transform="translate(478.15,226.2) scale(0.93,1)" font-size="7.45" text-anchor="middle" fill="#262626" >Temperature (°C)</text>
<rect x="31.4" y="238.4" width="100.6" height="93.5" fill="none" stroke="#4a4a4a" stroke-width="1.3"/>
<path d="M56.55,331.9 v-2.0 M81.7,331.9 v-2.0 M106.85,331.9 v-2.0 M31.4,308.52 h2.0 M31.4,285.15 h2.0 M31.4,261.77 h2.0" stroke="#4a4a4a" stroke-width="1" fill="none"/>
<text transform="translate(25.2,334.4) scale(0.93,1)" font-size="7.56" text-anchor="end" fill="#262626" >0</text>
<text transform="translate(25.2,311.02) scale(0.93,1)" font-size="7.56" text-anchor="end" fill="#262626" >5</text>
<text transform="translate(25.2,287.65) scale(0.93,1)" font-size="7.56" text-anchor="end" fill="#262626" >10</text>
<text transform="translate(25.2,264.27) scale(0.93,1)" font-size="7.56" text-anchor="end" fill="#262626" >15</text>
<text transform="translate(25.2,240.9) scale(0.93,1)" font-size="7.56" text-anchor="end" fill="#262626" >20</text>
<text transform="translate(31.4,342.7) scale(0.93,1)" font-size="7.56" text-anchor="middle" fill="#262626" >1</text>
<text transform="translate(56.55,342.7) scale(0.93,1)" font-size="7.56" text-anchor="middle" fill="#262626" >10</text>
<text transform="translate(81.7,342.7) scale(0.93,1)" font-size="7.56" text-anchor="middle" fill="#262626" >100</text>
<text transform="translate(106.85,342.7) scale(0.93,1)" font-size="7.56" text-anchor="middle" fill="#262626" >1000</text>
<text transform="translate(132,342.7) scale(0.93,1)" font-size="7.56" text-anchor="middle" fill="#262626" >10,000</text>
<text transform="translate(81.7,352.2) scale(0.93,1)" font-size="7.56" text-anchor="middle" fill="#262626" >Size (nm)</text>
<text transform="translate(14.9,285.3) rotate(-90) scale(0.93,1)" font-size="7.88" text-anchor="middle" fill="#262626">Intensity (%)</text>
<text transform="translate(36,250) scale(0.93,1)" font-size="9.29" text-anchor="start" fill="#262626" >(h) PVA<tspan font-size="6.48" dy="2.1">500</tspan><tspan dy="-2.1">, 60°C</tspan></text>
<text transform="translate(43.3,260) scale(0.93,1)" font-size="9.5" text-anchor="start" fill="#262626" >(-CTAB)</text>
<path d="M31.4,331.9 H73.5 M95.5,331.9 H132" stroke="#44bce0" stroke-width="1.3" opacity="0.4"/>
<path d="M73.5,331.9 C73.78,330.58 74.65,326.65 75.2,324 C75.75,321.35 76.27,320 76.8,316 C77.33,312 78,303.67 78.4,300 C78.8,296.33 78.85,296.67 79.2,294 C79.55,291.33 80.03,287.33 80.5,284 C80.97,280.67 81.28,276.75 82,274 C82.72,271.25 83.88,267.5 84.8,267.5 C85.72,267.5 86.8,271.25 87.5,274 C88.2,276.75 88.53,280.67 89,284 C89.47,287.33 89.97,291.33 90.3,294 C90.63,296.67 90.63,296.33 91,300 C91.37,303.67 92,312 92.5,316 C93,320 93.5,321.35 94,324 C94.5,326.65 95.25,330.58 95.5,331.9" stroke="#44bce0" stroke-width="1.1" fill="none"/>
<rect x="165" y="238.4" width="101" height="93.5" fill="none" stroke="#4a4a4a" stroke-width="1.3"/>
<path d="M190.25,331.9 v-2.0 M215.5,331.9 v-2.0 M240.75,331.9 v-2.0 M165,308.52 h2.0 M165,285.15 h2.0 M165,261.77 h2.0" stroke="#4a4a4a" stroke-width="1" fill="none"/>
<text transform="translate(158.8,334.4) scale(0.93,1)" font-size="7.56" text-anchor="end" fill="#262626" >0</text>
<text transform="translate(158.8,311.02) scale(0.93,1)" font-size="7.56" text-anchor="end" fill="#262626" >5</text>
<text transform="translate(158.8,287.65) scale(0.93,1)" font-size="7.56" text-anchor="end" fill="#262626" >10</text>
<text transform="translate(158.8,264.27) scale(0.93,1)" font-size="7.56" text-anchor="end" fill="#262626" >15</text>
<text transform="translate(158.8,240.9) scale(0.93,1)" font-size="7.56" text-anchor="end" fill="#262626" >20</text>
<text transform="translate(165,342.7) scale(0.93,1)" font-size="7.56" text-anchor="middle" fill="#262626" >1</text>
<text transform="translate(190.25,342.7) scale(0.93,1)" font-size="7.56" text-anchor="middle" fill="#262626" >10</text>
<text transform="translate(215.5,342.7) scale(0.93,1)" font-size="7.56" text-anchor="middle" fill="#262626" >100</text>
<text transform="translate(240.75,342.7) scale(0.93,1)" font-size="7.56" text-anchor="middle" fill="#262626" >1000</text>
<text transform="translate(266,342.7) scale(0.93,1)" font-size="7.56" text-anchor="middle" fill="#262626" >10,000</text>
<text transform="translate(215.5,352.2) scale(0.93,1)" font-size="7.56" text-anchor="middle" fill="#262626" >Size (nm)</text>
<text transform="translate(148.5,285.3) rotate(-90) scale(0.93,1)" font-size="7.88" text-anchor="middle" fill="#262626">Intensity (%)</text>
<text transform="translate(168.9,249.5) scale(0.93,1)" font-size="9.29" text-anchor="start" fill="#262626" >(i) PVA<tspan font-size="6.48" dy="2.1">500</tspan><tspan dy="-2.1">, 60°C</tspan></text>
<text transform="translate(181.2,259.7) scale(0.93,1)" font-size="9.5" text-anchor="start" fill="#262626" >(+CTAB)</text>
<path d="M165,331.9 H201.6 M227.8,331.9 H266" stroke="#3f92c8" stroke-width="1.3" opacity="0.4"/>
<path d="M201.6,331.9 C201.82,331.08 202.35,328.98 202.9,327 C203.45,325.02 204.35,322.5 204.9,320 C205.45,317.5 205.8,314.83 206.2,312 C206.6,309.17 206.78,306.72 207.3,303 C207.82,299.28 208.67,293.38 209.3,289.7 C209.93,286.02 210.32,283.23 211.1,280.9 C211.88,278.57 213.03,275.7 214,275.7 C214.97,275.7 216.1,278.57 216.9,280.9 C217.7,283.23 218.2,286.52 218.8,289.7 C219.4,292.88 219.97,296.28 220.5,300 C221.03,303.72 221.53,308.67 222,312 C222.47,315.33 222.63,317.5 223.3,320 C223.97,322.5 225.25,325.02 226,327 C226.75,328.98 227.5,331.08 227.8,331.9" stroke="#3f92c8" stroke-width="1.1" fill="none"/>
<rect x="298.2" y="238.4" width="100.4" height="93.5" fill="none" stroke="#4a4a4a" stroke-width="1.3"/>
<path d="M323.3,331.9 v-2.0 M348.4,331.9 v-2.0 M373.5,331.9 v-2.0 M298.2,308.52 h2.0 M298.2,285.15 h2.0 M298.2,261.77 h2.0" stroke="#4a4a4a" stroke-width="1" fill="none"/>
<text transform="translate(292,334.4) scale(0.93,1)" font-size="7.56" text-anchor="end" fill="#262626" >0</text>
<text transform="translate(292,311.02) scale(0.93,1)" font-size="7.56" text-anchor="end" fill="#262626" >5</text>
<text transform="translate(292,287.65) scale(0.93,1)" font-size="7.56" text-anchor="end" fill="#262626" >10</text>
<text transform="translate(292,264.27) scale(0.93,1)" font-size="7.56" text-anchor="end" fill="#262626" >15</text>
<text transform="translate(292,240.9) scale(0.93,1)" font-size="7.56" text-anchor="end" fill="#262626" >20</text>
<text transform="translate(298.2,342.7) scale(0.93,1)" font-size="7.56" text-anchor="middle" fill="#262626" >1</text>
<text transform="translate(323.3,342.7) scale(0.93,1)" font-size="7.56" text-anchor="middle" fill="#262626" >10</text>
<text transform="translate(348.4,342.7) scale(0.93,1)" font-size="7.56" text-anchor="middle" fill="#262626" >100</text>
<text transform="translate(373.5,342.7) scale(0.93,1)" font-size="7.56" text-anchor="middle" fill="#262626" >1000</text>
<text transform="translate(398.6,342.7) scale(0.93,1)" font-size="7.56" text-anchor="middle" fill="#262626" >10,000</text>
<text transform="translate(348.4,352.2) scale(0.93,1)" font-size="7.56" text-anchor="middle" fill="#262626" >Size (nm)</text>
<text transform="translate(281.7,285.3) rotate(-90) scale(0.93,1)" font-size="7.88" text-anchor="middle" fill="#262626">Intensity (%)</text>
<text transform="translate(301.1,249.2) scale(0.93,1)" font-size="9.29" text-anchor="start" fill="#262626" >(j) PVA<tspan font-size="6.48" dy="2.1">3500</tspan><tspan dy="-2.1">, 60°C</tspan></text>
<text transform="translate(309.1,258.7) scale(0.93,1)" font-size="9.5" text-anchor="start" fill="#262626" >(-CTAB)</text>
<path d="M298.2,331.9 H354.1 M373.3,331.9 H398.6" stroke="#eaa2e4" stroke-width="1.3" opacity="1.0"/>
<path d="M354.1,331.9 C354.28,330.75 354.77,327.98 355.2,325 C355.63,322.02 356.22,319.17 356.7,314 C357.18,308.83 357.76,298.5 358.1,294 C358.44,289.5 358.45,290.12 358.75,287 C359.05,283.88 359.41,279.18 359.9,275.3 C360.39,271.42 361.12,266.8 361.7,263.7 C362.28,260.6 362.82,256.7 363.4,256.7 C363.98,256.7 364.62,260.6 365.2,263.7 C365.78,266.8 366.42,271.42 366.9,275.3 C367.38,279.18 367.8,283.88 368.1,287 C368.4,290.12 368.43,289.5 368.7,294 C368.97,298.5 369.22,308.83 369.7,314 C370.18,319.17 371,322.02 371.6,325 C372.2,327.98 373.02,330.75 373.3,331.9" stroke="#eaa2e4" stroke-width="1.1" fill="none"/>
<rect x="431.6" y="238.4" width="100.4" height="93.5" fill="none" stroke="#4a4a4a" stroke-width="1.3"/>
<path d="M456.7,331.9 v-2.0 M481.8,331.9 v-2.0 M506.9,331.9 v-2.0 M431.6,308.52 h2.0 M431.6,285.15 h2.0 M431.6,261.77 h2.0" stroke="#4a4a4a" stroke-width="1" fill="none"/>
<text transform="translate(425.4,334.4) scale(0.93,1)" font-size="7.56" text-anchor="end" fill="#262626" >0</text>
<text transform="translate(425.4,311.02) scale(0.93,1)" font-size="7.56" text-anchor="end" fill="#262626" >5</text>
<text transform="translate(425.4,287.65) scale(0.93,1)" font-size="7.56" text-anchor="end" fill="#262626" >10</text>
<text transform="translate(425.4,264.27) scale(0.93,1)" font-size="7.56" text-anchor="end" fill="#262626" >15</text>
<text transform="translate(425.4,240.9) scale(0.93,1)" font-size="7.56" text-anchor="end" fill="#262626" >20</text>
<text transform="translate(431.6,342.7) scale(0.93,1)" font-size="7.56" text-anchor="middle" fill="#262626" >1</text>
<text transform="translate(456.7,342.7) scale(0.93,1)" font-size="7.56" text-anchor="middle" fill="#262626" >10</text>
<text transform="translate(481.8,342.7) scale(0.93,1)" font-size="7.56" text-anchor="middle" fill="#262626" >100</text>
<text transform="translate(506.9,342.7) scale(0.93,1)" font-size="7.56" text-anchor="middle" fill="#262626" >1000</text>
<text transform="translate(532,342.7) scale(0.93,1)" font-size="7.56" text-anchor="middle" fill="#262626" >10,000</text>
<text transform="translate(481.8,352.2) scale(0.93,1)" font-size="7.56" text-anchor="middle" fill="#262626" >Size (nm)</text>
<text transform="translate(415.1,285.3) rotate(-90) scale(0.93,1)" font-size="7.88" text-anchor="middle" fill="#262626">Intensity (%)</text>
<text transform="translate(433.4,249.2) scale(0.93,1)" font-size="9.29" text-anchor="start" fill="#262626" >(k) PVA<tspan font-size="6.48" dy="2.1">3500</tspan><tspan dy="-2.1">, 60°C</tspan></text>
<text transform="translate(445.8,258.8) scale(0.93,1)" font-size="9.5" text-anchor="start" fill="#262626" >(+CTAB)</text>
<path d="M431.6,331.9 H486 M507.2,331.9 H532" stroke="#e47cd0" stroke-width="1.3" opacity="1.0"/>
<path d="M486,331.9 C486.13,331.08 486.4,328.98 486.8,327 C487.2,325.02 487.77,324.83 488.4,320 C489.03,315.17 489.97,303.97 490.6,298 C491.23,292.03 491.63,288.35 492.2,284.2 C492.77,280.05 493.25,276.2 494,273.1 C494.75,270 495.85,265.6 496.7,265.6 C497.55,265.6 498.42,270 499.1,273.1 C499.78,276.2 500.25,280.05 500.8,284.2 C501.35,288.35 501.77,292.03 502.4,298 C503.03,303.97 504,315.17 504.6,320 C505.2,324.83 505.57,325.02 506,327 C506.43,328.98 507,331.08 507.2,331.9" stroke="#e47cd0" stroke-width="1.1" fill="none"/>
</svg></body></html>
